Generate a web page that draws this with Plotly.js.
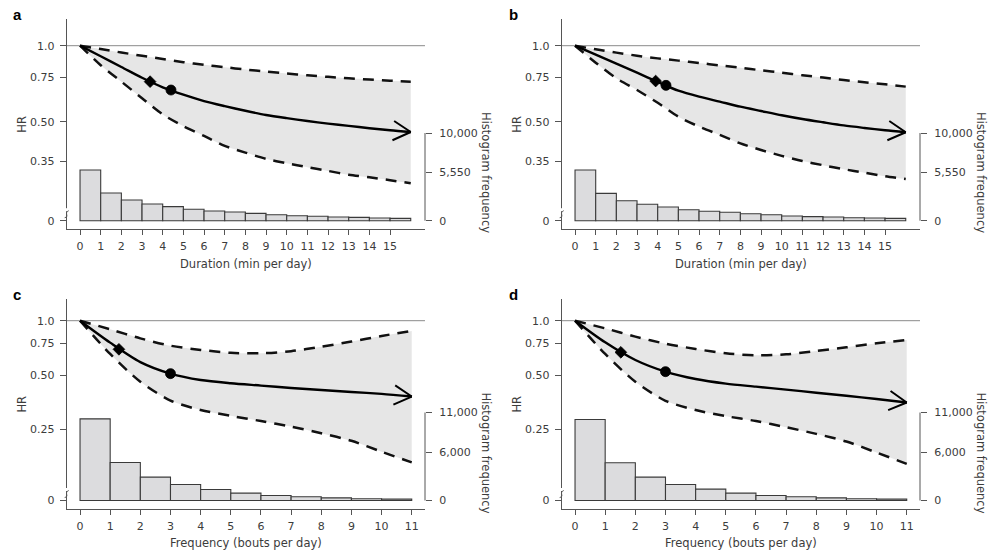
<!DOCTYPE html>
<html><head><meta charset="utf-8">
<script src="https://cdn.plot.ly/plotly-3.0.1.min.js"></script>
<style>html,body{margin:0;padding:0;background:#fff}#chart{width:1000px;height:557px}</style>
</head><body><div id="chart"></div>
<script>
// ---------------- data ----------------
const durX = [0,1,2,3,4,5,6,7,8,9,10,11,12,13,14,15,16];
const freqX = [0,1,2,3,4,5,6,7,8,9,10,11];
const durTicks = [0,1,2,3,4,5,6,7,8,9,10,11,12,13,14,15];
const freqTicks = [0,1,2,3,4,5,6,7,8,9,10,11];
const durBins = [0,1,2,3,4,5,6,7,8,9,10,11,12,13,14,15];
const freqBins = [0,1,2,3,4,5,6,7,8,9,10];
const durTitle = 'Duration (min per day)';
const freqTitle = 'Frequency (bouts per day)';
const hrTitle = 'HR';
const histTitle = 'Histogram frequency';

// panel a
const aHR    = [1.0,0.908,0.824,0.747,0.685,0.640,0.604,0.577,0.553,0.532,0.517,0.504,0.492,0.482,0.472,0.463,0.456];
const aUpper = [1.0,0.970,0.940,0.912,0.886,0.861,0.840,0.822,0.805,0.790,0.776,0.764,0.753,0.743,0.735,0.727,0.721];
const aLower = [1.0,0.837,0.721,0.620,0.535,0.481,0.440,0.402,0.378,0.357,0.343,0.331,0.320,0.309,0.302,0.294,0.286];
const aMarkX = [3.39,4.40];
const aMarkY = [0.721,0.668];
const aCounts = [5780,3160,2360,1900,1600,1300,1100,990,840,680,570,500,420,380,310,270];

// panel b
const bHR    = [1.0,0.922,0.849,0.782,0.719,0.664,0.629,0.601,0.574,0.552,0.531,0.513,0.498,0.484,0.473,0.463,0.455];
const bUpper = [1.0,0.968,0.939,0.913,0.891,0.873,0.855,0.836,0.819,0.799,0.782,0.764,0.748,0.732,0.717,0.704,0.689];
const bLower = [1.0,0.857,0.743,0.668,0.595,0.524,0.479,0.444,0.411,0.387,0.367,0.350,0.337,0.325,0.315,0.305,0.297];
const bMarkX = [3.90,4.40];
const bMarkY = [0.725,0.697];
const bCounts = [5780,3120,2280,1870,1560,1250,1070,960,800,680,540,460,420,340,310,270];

// panel c
const cHR    = [1.0,0.756,0.590,0.509,0.469,0.450,0.437,0.424,0.413,0.403,0.393,0.380];
const cUpper = [1.0,0.896,0.798,0.727,0.689,0.664,0.660,0.678,0.718,0.766,0.823,0.877];
const cLower = [1.0,0.654,0.459,0.361,0.320,0.297,0.278,0.259,0.238,0.216,0.188,0.164];
const cMarkX = [1.29,3.0];
const cMarkY = [0.694,0.509];
const cCounts = [10210,4750,2920,2000,1375,920,625,460,330,210,170];

// panel d
const dHR    = [1.0,0.759,0.606,0.522,0.475,0.448,0.431,0.415,0.399,0.384,0.368,0.352];
const dUpper = [1.0,0.907,0.816,0.746,0.697,0.660,0.643,0.651,0.679,0.712,0.749,0.782];
const dLower = [1.0,0.654,0.459,0.360,0.320,0.296,0.278,0.257,0.236,0.214,0.186,0.161];
const dMarkX = [1.52,3.0];
const dMarkY = [0.668,0.522];
const dCounts = [10125,4710,2920,2000,1420,920,625,460,330,210,170];

const hrTicksTop = [0.35,0.5,0.75,1.0];
const hrTextTop = ['0.35','0.50','0.75','1.0'];
const hrTicksBot = [0.25,0.5,0.75,1.0];
const hrTextBot = ['0.25','0.50','0.75','1.0'];
const histTicksTop = [0,5550,10000];
const histTicksBot = [0,6000,11000];
const refHR = 1.0;
const markSymbols = ['diamond','circle'];

// ---------------- layout constants ----------------
const W = 1000, H = 557;
const colDom = [[66.7,425],[561.7,920]];
const rowDom = [[19,229],[299,508.7]];
const FONT = 'DejaVu Sans';
const TXT = '#3c3c3c';
const AX = '#555';
const ARM_LEN = 19, ARM_HALF = 10.5;

const panels = [
  {lab:'a', x:durX, hr:aHR, up:aUpper, lo:aLower, mx:aMarkX, my:aMarkY, bins:durBins, counts:aCounts,
   xr:[-0.645,16.69], yr:[-0.7245,0.1055], hr2:[-946,23000], hrT:hrTicksTop, hrL:hrTextTop, hT:histTicksTop, xT:durTicks, xTitle:durTitle, row:0, col:0},
  {lab:'b', x:durX, hr:bHR, up:bUpper, lo:bLower, mx:bMarkX, my:bMarkY, bins:durBins, counts:bCounts,
   xr:[-0.645,16.69], yr:[-0.7245,0.1055], hr2:[-946,23000], hrT:hrTicksTop, hrL:hrTextTop, hT:histTicksTop, xT:durTicks, xTitle:durTitle, row:0, col:1},
  {lab:'c', x:freqX, hr:cHR, up:cUpper, lo:cLower, mx:cMarkX, my:cMarkY, bins:freqBins, counts:cCounts,
   xr:[-0.442,11.44], yr:[-1.0416,0.1202], hr2:[-1025,25190], hrT:hrTicksBot, hrL:hrTextBot, hT:histTicksBot, xT:freqTicks, xTitle:freqTitle, row:1, col:0},
  {lab:'d', x:freqX, hr:dHR, up:dUpper, lo:dLower, mx:dMarkX, my:dMarkY, bins:freqBins, counts:dCounts,
   xr:[-0.442,11.44], yr:[-1.0416,0.1202], hr2:[-1025,25190], hrT:hrTicksBot, hrL:hrTextBot, hT:histTicksBot, xT:freqTicks, xTitle:freqTitle, row:1, col:1}
];

const traces = [];
const layout = {
  width: W, height: H, margin:{l:0,r:0,t:0,b:0},
  paper_bgcolor:'#fff', plot_bgcolor:'rgba(0,0,0,0)',
  showlegend:false, font:{family:FONT, size:11, color:TXT},
  annotations:[], shapes:[]
};
const px = v => v / W;
const py = v => 1 - v / H;

panels.forEach((p, i) => {
  const xn = i === 0 ? 'x' : 'x' + (i + 1);
  const yn = 'y' + (2 * i + 1 === 1 ? '' : 2 * i + 1);
  const y2n = 'y' + (2 * i + 2);
  const xKey = 'xaxis' + (i === 0 ? '' : i + 1);
  const yKey = 'yaxis' + (2 * i + 1 === 1 ? '' : 2 * i + 1);
  const y2Key = 'yaxis' + (2 * i + 2);
  const cd = colDom[p.col], rd = rowDom[p.row];
  const xdom = [px(cd[0]), px(cd[1])];
  const ydom = [py(rd[1]), py(rd[0])];

  // value of HR axis aligned with histogram zero
  const zf = (0 - p.hr2[0]) / (p.hr2[1] - p.hr2[0]);
  const zeroHR = Math.pow(10, p.yr[0] + zf * (p.yr[1] - p.yr[0]));

  layout[xKey] = {domain:xdom, anchor:yn, range:p.xr, showgrid:false, zeroline:false,
    showline:true, linecolor:AX, linewidth:1, ticks:'outside', ticklen:5, tickcolor:AX, tickwidth:1,
    ticklabelstandoff:2,
    tickvals:p.xT, ticktext:p.xT.map(String), tickfont:{family:FONT,size:11,color:TXT}, fixedrange:true};
  layout[yKey] = {domain:ydom, anchor:xn, type:'log', range:p.yr, showgrid:false, zeroline:false,
    showline:true, linecolor:AX, linewidth:1, ticks:'outside', ticklen:6, tickcolor:AX, tickwidth:1,
    ticklabelstandoff:3,
    tickvals:[zeroHR].concat(p.hrT), ticktext:['0'].concat(p.hrL), tickfont:{family:FONT,size:11,color:TXT}, fixedrange:true};
  layout[y2Key] = {overlaying:yn, anchor:xn, side:'right', range:p.hr2, showgrid:false, zeroline:false,
    showline:false, ticks:'outside', ticklen:6, tickcolor:AX, tickwidth:1,
    ticklabelstandoff:5,
    tickvals:p.hT, ticktext:p.hT.map(v => v.toLocaleString('en-US')), tickfont:{family:FONT,size:11,color:TXT}, fixedrange:true};

  // CI band
  traces.push({x:p.x, y:p.lo, xaxis:xn, yaxis:yn, mode:'lines', line:{width:0, shape:'spline', smoothing:0.8}, hoverinfo:'skip'});
  traces.push({x:p.x, y:p.up, xaxis:xn, yaxis:yn, mode:'lines', line:{width:0, shape:'spline', smoothing:0.8}, fill:'tonexty', fillcolor:'#e6e6e6', hoverinfo:'skip'});
  // reference line HR = 1
  traces.push({x:p.xr, y:[refHR, refHR], xaxis:xn, yaxis:yn, mode:'lines', line:{width:1, color:'#8a8a8a'}, hoverinfo:'skip'});
  // dashed CI lines
  traces.push({x:p.x, y:p.up, xaxis:xn, yaxis:yn, mode:'lines', line:{width:2.5, color:'#111', dash:'11px,8px', shape:'spline', smoothing:0.8}});
  traces.push({x:p.x, y:p.lo, xaxis:xn, yaxis:yn, mode:'lines', line:{width:2.5, color:'#111', dash:'11px,8px', shape:'spline', smoothing:0.8}});
  // main curve
  traces.push({x:p.x, y:p.hr, xaxis:xn, yaxis:yn, mode:'lines', line:{width:2.4, color:'#000', shape:'spline', smoothing:0.8}});
  // markers
  traces.push({x:p.mx, y:p.my, xaxis:xn, yaxis:yn, mode:'markers', opacity:1,
    marker:{symbol:markSymbols, size:[9,10], color:'#000', opacity:1, line:{width:0.8, color:'#000'}}});
  // histogram
  traces.push({type:'bar', x:p.bins, y:p.counts, xaxis:xn, yaxis:y2n, width:1, offset:0,
    marker:{color:'#dcdcde', line:{color:'#3a3a3a', width:1.1}}, hoverinfo:'skip'});

  // open arrow head at the curve end: two arms along the end tangent
  const n = p.x.length;
  const pxPerX = (cd[1] - cd[0]) / (p.xr[1] - p.xr[0]);
  const pxPerDec = (rd[1] - rd[0]) / (p.yr[1] - p.yr[0]);
  const dxs = (p.x[n-1] - p.x[n-2]) * pxPerX;
  const dys = -(Math.log10(p.hr[n-1]) - Math.log10(p.hr[n-2])) * pxPerDec;
  const th = Math.atan2(dys, dxs);
  [-1, 1].forEach(s => {
    const ax = Math.cos(th) * (-ARM_LEN) - Math.sin(th) * (s * ARM_HALF);
    const ay = Math.sin(th) * (-ARM_LEN) + Math.cos(th) * (s * ARM_HALF);
    layout.annotations.push({xref:xn, yref:yn, x:p.x[n-1], y:Math.log10(p.hr[n-1]), ax:ax, ay:ay,
      text:'', showarrow:true, arrowhead:0, arrowwidth:2, arrowcolor:'#000', standoff:0});
  });

  // right axis spine (only over tick span)
  layout.shapes.push({type:'line', xref:xn + ' domain', yref:y2n, x0:1, x1:1,
    y0:p.hT[0], y1:p.hT[p.hT.length-1], line:{color:AX, width:1}});
  // axis break squiggle
  layout.shapes.push({type:'path', xref:'paper', yref:y2n, xsizemode:'pixel', ysizemode:'pixel',
    xanchor:xdom[0], yanchor:0, path:'M-1.5,11 L1.5,11', line:{color:'#fff', width:3}});
  layout.shapes.push({type:'path', xref:'paper', yref:y2n, xsizemode:'pixel', ysizemode:'pixel',
    xanchor:xdom[0], yanchor:0, path:'M-2,3 C3,4 -3,8 2,10', line:{color:AX, width:1}});

  // texts
  const tops = [14, 294];
  layout.annotations.push({xref:'paper', yref:'paper', x:px(p.col ? 507 : 11), y:py(tops[p.row]), xanchor:'left', yanchor:'middle',
    text:'<b>' + p.lab + '</b>', showarrow:false, font:{family:'Liberation Sans', size:15, color:'#000'}});
  layout.annotations.push({xref:'paper', yref:'paper', x:px(cd[0] - 45), y:(ydom[0] + ydom[1]) / 2, xanchor:'center', yanchor:'middle',
    text:hrTitle, textangle:-90, showarrow:false, font:{family:FONT, size:11.5, color:TXT}});
  const mid = p.hT[1];
  layout.annotations.push({xref:'paper', yref:y2n, x:px(cd[1] + 61), y:mid, xanchor:'center', yanchor:'middle',
    text:histTitle, textangle:90, showarrow:false, font:{family:FONT, size:11.5, color:TXT}});
  layout.annotations.push({xref:'paper', yref:'paper', x:(xdom[0] + xdom[1]) / 2, y:py(rd[1] + 34.5), xanchor:'center', yanchor:'middle',
    text:p.xTitle, showarrow:false, font:{family:FONT, size:11.5, color:TXT}});
});

Plotly.newPlot('chart', traces, layout, {staticPlot:true, displayModeBar:false});
</script>
</body></html>
